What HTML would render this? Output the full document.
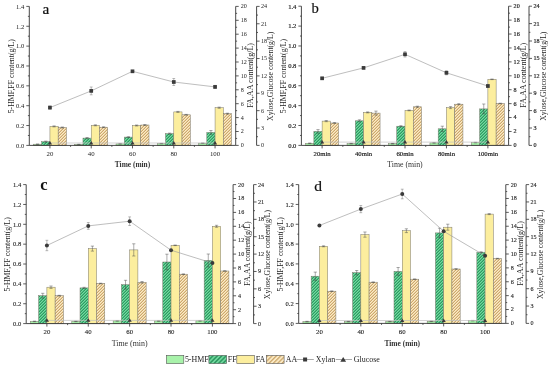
<!DOCTYPE html>
<html><head><meta charset="utf-8"><title>Chart</title>
<style>html,body{margin:0;padding:0;background:#fff;}body{width:550px;height:368px;overflow:hidden;}svg{display:block;filter:blur(0.3px);}</style>
</head><body>
<svg width="550" height="368" viewBox="0 0 550 368"><defs>
<pattern id="hff" patternUnits="userSpaceOnUse" width="3" height="3"><rect x="0" y="0" width="1" height="1" fill="#74d9a0"/><rect x="1" y="0" width="1" height="1" fill="#4cbc80"/><rect x="2" y="0" width="1" height="1" fill="#2f9a62"/><rect x="0" y="1" width="1" height="1" fill="#4cbc80"/><rect x="1" y="1" width="1" height="1" fill="#2f9a62"/><rect x="2" y="1" width="1" height="1" fill="#74d9a0"/><rect x="0" y="2" width="1" height="1" fill="#2f9a62"/><rect x="1" y="2" width="1" height="1" fill="#74d9a0"/><rect x="2" y="2" width="1" height="1" fill="#4cbc80"/></pattern>
<pattern id="haa" patternUnits="userSpaceOnUse" width="3" height="3"><rect x="0" y="0" width="1" height="1" fill="#fcebc6"/><rect x="1" y="0" width="1" height="1" fill="#ead0a0"/><rect x="2" y="0" width="1" height="1" fill="#cca86c"/><rect x="0" y="1" width="1" height="1" fill="#ead0a0"/><rect x="1" y="1" width="1" height="1" fill="#cca86c"/><rect x="2" y="1" width="1" height="1" fill="#fcebc6"/><rect x="0" y="2" width="1" height="1" fill="#cca86c"/><rect x="1" y="2" width="1" height="1" fill="#fcebc6"/><rect x="2" y="2" width="1" height="1" fill="#ead0a0"/></pattern>
<pattern id="lff" patternUnits="userSpaceOnUse" width="3.1" height="3.1" patternTransform="rotate(45)"><rect width="3.1" height="3.1" fill="#2f9a62"/><rect width="1.5" height="3.1" fill="#74d9a0"/></pattern>
<pattern id="laa" patternUnits="userSpaceOnUse" width="3.1" height="3.1" patternTransform="rotate(45)"><rect width="3.1" height="3.1" fill="#fcebc6"/><rect width="1.3" height="3.1" fill="#cca86c"/></pattern>
</defs>
<rect x="33.44" y="144.2" width="8.25" height="1.2" fill="#a8f2aa" stroke="#7a776a" stroke-width="0.5"/>
<rect x="41.69" y="141.7" width="8.25" height="3.7" fill="url(#hff)" stroke="#7a776a" stroke-width="0.5"/>
<rect x="49.94" y="126.4" width="8.25" height="19" fill="#fcee9e" stroke="#7a776a" stroke-width="0.5"/>
<rect x="58.19" y="127.5" width="8.25" height="17.9" fill="url(#haa)" stroke="#7a776a" stroke-width="0.5"/>
<path d="M37.56 144V144.4M35.96 144H39.16M35.96 144.4H39.16" stroke="#444" stroke-width="0.45" fill="none"/>
<path d="M45.81 141.1V142.3M44.21 141.1H47.41M44.21 142.3H47.41" stroke="#444" stroke-width="0.45" fill="none"/>
<path d="M54.06 125.9V126.9M52.46 125.9H55.66M52.46 126.9H55.66" stroke="#444" stroke-width="0.45" fill="none"/>
<path d="M62.31 127V128M60.71 127H63.91M60.71 128H63.91" stroke="#444" stroke-width="0.45" fill="none"/>
<rect x="74.72" y="144.4" width="8.25" height="1" fill="#a8f2aa" stroke="#7a776a" stroke-width="0.5"/>
<rect x="82.97" y="138.1" width="8.25" height="7.3" fill="url(#hff)" stroke="#7a776a" stroke-width="0.5"/>
<rect x="91.22" y="125.3" width="8.25" height="20.1" fill="#fcee9e" stroke="#7a776a" stroke-width="0.5"/>
<rect x="99.47" y="127.2" width="8.25" height="18.2" fill="url(#haa)" stroke="#7a776a" stroke-width="0.5"/>
<path d="M78.84 144.2V144.6M77.25 144.2H80.44M77.25 144.6H80.44" stroke="#444" stroke-width="0.45" fill="none"/>
<path d="M87.09 137.5V138.7M85.5 137.5H88.69M85.5 138.7H88.69" stroke="#444" stroke-width="0.45" fill="none"/>
<path d="M95.34 124.8V125.8M93.75 124.8H96.94M93.75 125.8H96.94" stroke="#444" stroke-width="0.45" fill="none"/>
<path d="M103.59 126.8V127.6M102 126.8H105.19M102 127.6H105.19" stroke="#444" stroke-width="0.45" fill="none"/>
<rect x="116" y="143.9" width="8.25" height="1.5" fill="#a8f2aa" stroke="#7a776a" stroke-width="0.5"/>
<rect x="124.25" y="137.1" width="8.25" height="8.3" fill="url(#hff)" stroke="#7a776a" stroke-width="0.5"/>
<rect x="132.5" y="125.5" width="8.25" height="19.9" fill="#fcee9e" stroke="#7a776a" stroke-width="0.5"/>
<rect x="140.75" y="125" width="8.25" height="20.4" fill="url(#haa)" stroke="#7a776a" stroke-width="0.5"/>
<path d="M120.12 143.7V144.1M118.53 143.7H121.72M118.53 144.1H121.72" stroke="#444" stroke-width="0.45" fill="none"/>
<path d="M128.38 136.7V137.5M126.78 136.7H129.97M126.78 137.5H129.97" stroke="#444" stroke-width="0.45" fill="none"/>
<path d="M136.62 125V126M135.03 125H138.22M135.03 126H138.22" stroke="#444" stroke-width="0.45" fill="none"/>
<path d="M144.88 124.5V125.5M143.28 124.5H146.47M143.28 125.5H146.47" stroke="#444" stroke-width="0.45" fill="none"/>
<rect x="157.28" y="143.6" width="8.25" height="1.8" fill="#a8f2aa" stroke="#7a776a" stroke-width="0.5"/>
<rect x="165.53" y="133.7" width="8.25" height="11.7" fill="url(#hff)" stroke="#7a776a" stroke-width="0.5"/>
<rect x="173.78" y="111.9" width="8.25" height="33.5" fill="#fcee9e" stroke="#7a776a" stroke-width="0.5"/>
<rect x="182.03" y="114.8" width="8.25" height="30.6" fill="url(#haa)" stroke="#7a776a" stroke-width="0.5"/>
<path d="M161.41 143.4V143.8M159.81 143.4H163M159.81 143.8H163" stroke="#444" stroke-width="0.45" fill="none"/>
<path d="M169.66 133.1V134.3M168.06 133.1H171.25M168.06 134.3H171.25" stroke="#444" stroke-width="0.45" fill="none"/>
<path d="M177.91 111.4V112.4M176.31 111.4H179.5M176.31 112.4H179.5" stroke="#444" stroke-width="0.45" fill="none"/>
<path d="M186.16 114.4V115.2M184.56 114.4H187.75M184.56 115.2H187.75" stroke="#444" stroke-width="0.45" fill="none"/>
<rect x="198.56" y="143.2" width="8.25" height="2.2" fill="#a8f2aa" stroke="#7a776a" stroke-width="0.5"/>
<rect x="206.81" y="132.4" width="8.25" height="13" fill="url(#hff)" stroke="#7a776a" stroke-width="0.5"/>
<rect x="215.06" y="107.7" width="8.25" height="37.7" fill="#fcee9e" stroke="#7a776a" stroke-width="0.5"/>
<rect x="223.31" y="113.7" width="8.25" height="31.7" fill="url(#haa)" stroke="#7a776a" stroke-width="0.5"/>
<path d="M202.69 143V143.4M201.09 143H204.28M201.09 143.4H204.28" stroke="#444" stroke-width="0.45" fill="none"/>
<path d="M210.94 130.5V134.3M209.34 130.5H212.53M209.34 134.3H212.53" stroke="#444" stroke-width="0.45" fill="none"/>
<path d="M219.19 107.1V108.3M217.59 107.1H220.78M217.59 108.3H220.78" stroke="#444" stroke-width="0.45" fill="none"/>
<path d="M227.44 113.2V114.2M225.84 113.2H229.03M225.84 114.2H229.03" stroke="#444" stroke-width="0.45" fill="none"/>
<path d="M49.94 143H215.06" stroke="#c2c2c2" stroke-width="0.7" fill="none"/>
<path d="M47.84 144.4L49.94 140.9L52.04 144.4Z" fill="#3a3a3a"/>
<path d="M89.12 144.4L91.22 140.9L93.32 144.4Z" fill="#3a3a3a"/>
<path d="M130.4 144.4L132.5 140.9L134.6 144.4Z" fill="#3a3a3a"/>
<path d="M171.68 144.4L173.78 140.9L175.88 144.4Z" fill="#3a3a3a"/>
<path d="M212.96 144.4L215.06 140.9L217.16 144.4Z" fill="#3a3a3a"/>
<polyline points="49.94,107.6 91.22,90.9 132.5,71.3 173.78,82 215.06,86.9" stroke="#9a9a9a" stroke-width="0.65" fill="none"/>
<path d="M49.94 106.1V109.1M48.54 106.1H51.34M48.54 109.1H51.34" stroke="#777" stroke-width="0.5" fill="none"/>
<rect x="48.09" y="105.75" width="3.7" height="3.7" fill="#3a3a3a"/>
<path d="M91.22 87V94.8M89.82 87H92.62M89.82 94.8H92.62" stroke="#777" stroke-width="0.5" fill="none"/>
<rect x="89.37" y="89.05" width="3.7" height="3.7" fill="#3a3a3a"/>
<path d="M132.5 70.5V72.1M131.1 70.5H133.9M131.1 72.1H133.9" stroke="#777" stroke-width="0.5" fill="none"/>
<rect x="130.65" y="69.45" width="3.7" height="3.7" fill="#3a3a3a"/>
<path d="M173.78 78.5V85.5M172.38 78.5H175.18M172.38 85.5H175.18" stroke="#777" stroke-width="0.5" fill="none"/>
<rect x="171.93" y="80.15" width="3.7" height="3.7" fill="#3a3a3a"/>
<path d="M215.06 85.4V88.4M213.66 85.4H216.46M213.66 88.4H216.46" stroke="#777" stroke-width="0.5" fill="none"/>
<rect x="213.21" y="85.05" width="3.7" height="3.7" fill="#3a3a3a"/>
<path d="M29.3 6.4V145.4H235.7V6.4M256.6 6.4V145.4" stroke="#333" stroke-width="0.9" fill="none"/>
<path d="M26.3 145.4H29.3M27.9 135.47H29.3M26.3 125.54H29.3M27.9 115.61H29.3M26.3 105.69H29.3M27.9 95.76H29.3M26.3 85.83H29.3M27.9 75.9H29.3M26.3 65.97H29.3M27.9 56.04H29.3M26.3 46.11H29.3M27.9 36.19H29.3M26.3 26.26H29.3M27.9 16.33H29.3M26.3 6.4H29.3M235.7 145.4H238.7M235.7 138.45H237.1M235.7 131.5H238.7M235.7 124.55H237.1M235.7 117.6H238.7M235.7 110.65H237.1M235.7 103.7H238.7M235.7 96.75H237.1M235.7 89.8H238.7M235.7 82.85H237.1M235.7 75.9H238.7M235.7 68.95H237.1M235.7 62H238.7M235.7 55.05H237.1M235.7 48.1H238.7M235.7 41.15H237.1M235.7 34.2H238.7M235.7 27.25H237.1M235.7 20.3H238.7M235.7 13.35H237.1M235.7 6.4H238.7M256.6 145.4H259.6M256.6 136.71H258M256.6 128.03H259.6M256.6 119.34H258M256.6 110.65H259.6M256.6 101.96H258M256.6 93.28H259.6M256.6 84.59H258M256.6 75.9H259.6M256.6 67.21H258M256.6 58.53H259.6M256.6 49.84H258M256.6 41.15H259.6M256.6 32.46H258M256.6 23.78H259.6M256.6 15.09H258M256.6 6.4H259.6M49.94 145.4V148.4M70.58 145.4V146.9M91.22 145.4V148.4M111.86 145.4V146.9M132.5 145.4V148.4M153.14 145.4V146.9M173.78 145.4V148.4M194.42 145.4V146.9M215.06 145.4V148.4" stroke="#333" stroke-width="0.8" fill="none"/>
<g font-family="'Liberation Serif', 'Times New Roman', serif" font-size="6.6" fill="#222">
<text x="24.3" y="147.7" text-anchor="end">0.0</text>
<text x="24.3" y="127.84" text-anchor="end">0.2</text>
<text x="24.3" y="107.99" text-anchor="end">0.4</text>
<text x="24.3" y="88.13" text-anchor="end">0.6</text>
<text x="24.3" y="68.27" text-anchor="end">0.8</text>
<text x="24.3" y="48.41" text-anchor="end">1.0</text>
<text x="24.3" y="28.56" text-anchor="end">1.2</text>
<text x="24.3" y="8.7" text-anchor="end">1.4</text>
</g>
<g font-family="'Liberation Serif', 'Times New Roman', serif" font-size="6.1" fill="#222">
<text x="240.7" y="147.3">0</text>
<text x="240.7" y="133.4">2</text>
<text x="240.7" y="119.5">4</text>
<text x="240.7" y="105.6">6</text>
<text x="240.7" y="91.7">8</text>
<text x="240.7" y="77.8">10</text>
<text x="240.7" y="63.9">12</text>
<text x="240.7" y="50">14</text>
<text x="240.7" y="36.1">16</text>
<text x="240.7" y="22.2">18</text>
<text x="240.7" y="8.3">20</text>
<text x="261" y="147.3">0</text>
<text x="261" y="129.93">3</text>
<text x="261" y="112.55">6</text>
<text x="261" y="95.18">9</text>
<text x="261" y="77.8">12</text>
<text x="261" y="60.43">15</text>
<text x="261" y="43.05">18</text>
<text x="261" y="25.68">21</text>
<text x="261" y="8.3">24</text>
</g>
<g font-family="'Liberation Serif', 'Times New Roman', serif" font-size="6.8" fill="#222">
<text x="49.94" y="155.7" text-anchor="middle">20</text>
<text x="91.22" y="155.7" text-anchor="middle">40</text>
<text x="132.5" y="155.7" text-anchor="middle">60</text>
<text x="173.78" y="155.7" text-anchor="middle">80</text>
<text x="215.06" y="155.7" text-anchor="middle">100</text>
</g>
<g font-family="'Liberation Serif', 'Times New Roman', serif" font-size="7.7" fill="#222" text-anchor="middle">
<text transform="translate(13.5,76.2) rotate(-90)" font-size="7.8">5-HMF,FF content(g/L)</text>
<text transform="translate(252.6,75.4) rotate(-90)" font-size="8.0">FA,AA content(g/L)</text>
<text transform="translate(273.4,76.3) rotate(-90)">Xylose,Glucose content(g/L)</text>
</g>
<text x="132.5" y="166.8" font-family="'Liberation Serif', 'Times New Roman', serif" font-size="7.4" font-weight="bold" fill="#333" text-anchor="middle">Time (min)</text>
<text x="42.4" y="13.5" font-family="'Liberation Serif', 'Times New Roman', serif" font-size="15.2" font-weight="normal" fill="#111" stroke="#111" stroke-width="0.22">a</text>
<rect x="305.62" y="143.3" width="8.25" height="2.1" fill="#a8f2aa" stroke="#7a776a" stroke-width="0.5"/>
<rect x="313.87" y="131.4" width="8.25" height="14" fill="url(#hff)" stroke="#7a776a" stroke-width="0.5"/>
<rect x="322.12" y="121.1" width="8.25" height="24.3" fill="#fcee9e" stroke="#7a776a" stroke-width="0.5"/>
<rect x="330.37" y="123" width="8.25" height="22.4" fill="url(#haa)" stroke="#7a776a" stroke-width="0.5"/>
<path d="M309.75 143V143.6M308.14 143H311.35M308.14 143.6H311.35" stroke="#444" stroke-width="0.45" fill="none"/>
<path d="M318 129.6V133.2M316.39 129.6H319.6M316.39 133.2H319.6" stroke="#444" stroke-width="0.45" fill="none"/>
<path d="M326.25 120.5V121.7M324.64 120.5H327.85M324.64 121.7H327.85" stroke="#444" stroke-width="0.45" fill="none"/>
<path d="M334.5 122.6V123.4M332.89 122.6H336.1M332.89 123.4H336.1" stroke="#444" stroke-width="0.45" fill="none"/>
<rect x="347.06" y="143.6" width="8.25" height="1.8" fill="#a8f2aa" stroke="#7a776a" stroke-width="0.5"/>
<rect x="355.31" y="120.8" width="8.25" height="24.6" fill="url(#hff)" stroke="#7a776a" stroke-width="0.5"/>
<rect x="363.56" y="112.4" width="8.25" height="33" fill="#fcee9e" stroke="#7a776a" stroke-width="0.5"/>
<rect x="371.81" y="113.1" width="8.25" height="32.3" fill="url(#haa)" stroke="#7a776a" stroke-width="0.5"/>
<path d="M351.19 143.3V143.9M349.58 143.3H352.79M349.58 143.9H352.79" stroke="#444" stroke-width="0.45" fill="none"/>
<path d="M359.44 119.8V121.8M357.83 119.8H361.04M357.83 121.8H361.04" stroke="#444" stroke-width="0.45" fill="none"/>
<path d="M367.69 111.9V112.9M366.08 111.9H369.29M366.08 112.9H369.29" stroke="#444" stroke-width="0.45" fill="none"/>
<path d="M375.94 111.1V115.1M374.33 111.1H377.54M374.33 115.1H377.54" stroke="#444" stroke-width="0.45" fill="none"/>
<rect x="388.5" y="143.7" width="8.25" height="1.7" fill="#a8f2aa" stroke="#7a776a" stroke-width="0.5"/>
<rect x="396.75" y="126.2" width="8.25" height="19.2" fill="url(#hff)" stroke="#7a776a" stroke-width="0.5"/>
<rect x="405" y="110.4" width="8.25" height="35" fill="#fcee9e" stroke="#7a776a" stroke-width="0.5"/>
<rect x="413.25" y="106.8" width="8.25" height="38.6" fill="url(#haa)" stroke="#7a776a" stroke-width="0.5"/>
<path d="M392.62 143.4V144M391.02 143.4H394.23M391.02 144H394.23" stroke="#444" stroke-width="0.45" fill="none"/>
<path d="M400.88 125.7V126.7M399.27 125.7H402.48M399.27 126.7H402.48" stroke="#444" stroke-width="0.45" fill="none"/>
<path d="M409.12 110V110.8M407.52 110H410.73M407.52 110.8H410.73" stroke="#444" stroke-width="0.45" fill="none"/>
<path d="M417.38 106.2V107.4M415.77 106.2H418.98M415.77 107.4H418.98" stroke="#444" stroke-width="0.45" fill="none"/>
<rect x="429.94" y="142.9" width="8.25" height="2.5" fill="#a8f2aa" stroke="#7a776a" stroke-width="0.5"/>
<rect x="438.19" y="128.8" width="8.25" height="16.6" fill="url(#hff)" stroke="#7a776a" stroke-width="0.5"/>
<rect x="446.44" y="107.6" width="8.25" height="37.8" fill="#fcee9e" stroke="#7a776a" stroke-width="0.5"/>
<rect x="454.69" y="104.2" width="8.25" height="41.2" fill="url(#haa)" stroke="#7a776a" stroke-width="0.5"/>
<path d="M434.07 142.6V143.2M432.47 142.6H435.67M432.47 143.2H435.67" stroke="#444" stroke-width="0.45" fill="none"/>
<path d="M442.32 126.2V131.4M440.72 126.2H443.92M440.72 131.4H443.92" stroke="#444" stroke-width="0.45" fill="none"/>
<path d="M450.57 106.6V108.6M448.97 106.6H452.17M448.97 108.6H452.17" stroke="#444" stroke-width="0.45" fill="none"/>
<path d="M458.82 103.7V104.7M457.22 103.7H460.42M457.22 104.7H460.42" stroke="#444" stroke-width="0.45" fill="none"/>
<rect x="471.38" y="142.6" width="8.25" height="2.8" fill="#a8f2aa" stroke="#7a776a" stroke-width="0.5"/>
<rect x="479.63" y="108.9" width="8.25" height="36.5" fill="url(#hff)" stroke="#7a776a" stroke-width="0.5"/>
<rect x="487.88" y="79.3" width="8.25" height="66.1" fill="#fcee9e" stroke="#7a776a" stroke-width="0.5"/>
<rect x="496.13" y="103.5" width="8.25" height="41.9" fill="url(#haa)" stroke="#7a776a" stroke-width="0.5"/>
<path d="M475.5 142.3V142.9M473.9 142.3H477.11M473.9 142.9H477.11" stroke="#444" stroke-width="0.45" fill="none"/>
<path d="M483.75 104V113.8M482.15 104H485.36M482.15 113.8H485.36" stroke="#444" stroke-width="0.45" fill="none"/>
<path d="M492 79V79.6M490.4 79H493.61M490.4 79.6H493.61" stroke="#444" stroke-width="0.45" fill="none"/>
<path d="M500.25 103.2V103.8M498.65 103.2H501.86M498.65 103.8H501.86" stroke="#444" stroke-width="0.45" fill="none"/>
<path d="M322.12 142.1H487.88" stroke="#c2c2c2" stroke-width="0.7" fill="none"/>
<path d="M320.02 143.5L322.12 140L324.22 143.5Z" fill="#3a3a3a"/>
<path d="M361.46 143.5L363.56 140L365.66 143.5Z" fill="#3a3a3a"/>
<path d="M402.9 143.5L405 140L407.1 143.5Z" fill="#3a3a3a"/>
<path d="M444.34 143.5L446.44 140L448.54 143.5Z" fill="#3a3a3a"/>
<path d="M485.78 143.5L487.88 140L489.98 143.5Z" fill="#3a3a3a"/>
<polyline points="322.12,78.3 363.56,67.9 405,54.3 446.44,72.8 487.88,86" stroke="#9a9a9a" stroke-width="0.65" fill="none"/>
<path d="M322.12 77.5V79.1M320.72 77.5H323.52M320.72 79.1H323.52" stroke="#777" stroke-width="0.5" fill="none"/>
<rect x="320.27" y="76.45" width="3.7" height="3.7" fill="#3a3a3a"/>
<path d="M363.56 67.1V68.7M362.16 67.1H364.96M362.16 68.7H364.96" stroke="#777" stroke-width="0.5" fill="none"/>
<rect x="361.71" y="66.05" width="3.7" height="3.7" fill="#3a3a3a"/>
<path d="M405 51.6V57M403.6 51.6H406.4M403.6 57H406.4" stroke="#777" stroke-width="0.5" fill="none"/>
<rect x="403.15" y="52.45" width="3.7" height="3.7" fill="#3a3a3a"/>
<path d="M446.44 70.8V74.8M445.04 70.8H447.84M445.04 74.8H447.84" stroke="#777" stroke-width="0.5" fill="none"/>
<rect x="444.59" y="70.95" width="3.7" height="3.7" fill="#3a3a3a"/>
<path d="M487.88 84.8V87.2M486.48 84.8H489.28M486.48 87.2H489.28" stroke="#777" stroke-width="0.5" fill="none"/>
<rect x="486.03" y="84.15" width="3.7" height="3.7" fill="#3a3a3a"/>
<path d="M301.4 6.2V145.4H508.6V6.2M529 6.2V145.4" stroke="#333" stroke-width="0.9" fill="none"/>
<path d="M298.4 145.4H301.4M300 135.46H301.4M298.4 125.51H301.4M300 115.57H301.4M298.4 105.63H301.4M300 95.69H301.4M298.4 85.74H301.4M300 75.8H301.4M298.4 65.86H301.4M300 55.91H301.4M298.4 45.97H301.4M300 36.03H301.4M298.4 26.09H301.4M300 16.14H301.4M298.4 6.2H301.4M508.6 145.4H511.6M508.6 138.44H510M508.6 131.48H511.6M508.6 124.52H510M508.6 117.56H511.6M508.6 110.6H510M508.6 103.64H511.6M508.6 96.68H510M508.6 89.72H511.6M508.6 82.76H510M508.6 75.8H511.6M508.6 68.84H510M508.6 61.88H511.6M508.6 54.92H510M508.6 47.96H511.6M508.6 41H510M508.6 34.04H511.6M508.6 27.08H510M508.6 20.12H511.6M508.6 13.16H510M508.6 6.2H511.6M529 145.4H532M529 136.7H530.4M529 128H532M529 119.3H530.4M529 110.6H532M529 101.9H530.4M529 93.2H532M529 84.5H530.4M529 75.8H532M529 67.1H530.4M529 58.4H532M529 49.7H530.4M529 41H532M529 32.3H530.4M529 23.6H532M529 14.9H530.4M529 6.2H532M322.12 145.4V148.4M342.84 145.4V146.9M363.56 145.4V148.4M384.28 145.4V146.9M405 145.4V148.4M425.72 145.4V146.9M446.44 145.4V148.4M467.16 145.4V146.9M487.88 145.4V148.4" stroke="#333" stroke-width="0.8" fill="none"/>
<g font-family="'Liberation Serif', 'Times New Roman', serif" font-size="6.6" fill="#222" stroke="#222" stroke-width="0.18">
<text x="296.4" y="147.7" text-anchor="end">0.0</text>
<text x="296.4" y="127.81" text-anchor="end">0.2</text>
<text x="296.4" y="107.93" text-anchor="end">0.4</text>
<text x="296.4" y="88.04" text-anchor="end">0.6</text>
<text x="296.4" y="68.16" text-anchor="end">0.8</text>
<text x="296.4" y="48.27" text-anchor="end">1.0</text>
<text x="296.4" y="28.39" text-anchor="end">1.2</text>
<text x="296.4" y="8.5" text-anchor="end">1.4</text>
</g>
<g font-family="'Liberation Serif', 'Times New Roman', serif" font-size="6.1" fill="#222" stroke="#222" stroke-width="0.18">
<text x="513.6" y="147.3">0</text>
<text x="513.6" y="133.38">2</text>
<text x="513.6" y="119.46">4</text>
<text x="513.6" y="105.54">6</text>
<text x="513.6" y="91.62">8</text>
<text x="513.6" y="77.7">10</text>
<text x="513.6" y="63.78">12</text>
<text x="513.6" y="49.86">14</text>
<text x="513.6" y="35.94">16</text>
<text x="513.6" y="22.02">18</text>
<text x="513.6" y="8.1">20</text>
<text x="533.4" y="147.3">0</text>
<text x="533.4" y="129.9">3</text>
<text x="533.4" y="112.5">6</text>
<text x="533.4" y="95.1">9</text>
<text x="533.4" y="77.7">12</text>
<text x="533.4" y="60.3">15</text>
<text x="533.4" y="42.9">18</text>
<text x="533.4" y="25.5">21</text>
<text x="533.4" y="8.1">24</text>
</g>
<g font-family="'Liberation Serif', 'Times New Roman', serif" font-size="6.7" fill="#222" stroke="#222" stroke-width="0.18">
<text x="322.12" y="155.7" text-anchor="middle">20min</text>
<text x="363.56" y="155.7" text-anchor="middle">40min</text>
<text x="405" y="155.7" text-anchor="middle">60min</text>
<text x="446.44" y="155.7" text-anchor="middle">80min</text>
<text x="487.88" y="155.7" text-anchor="middle">100min</text>
</g>
<g font-family="'Liberation Serif', 'Times New Roman', serif" font-size="7.7" fill="#222" text-anchor="middle">
<text transform="translate(285.6,76.1) rotate(-90)" font-size="7.8">5-HMF,FF content(g/L)</text>
<text transform="translate(525.5,75.3) rotate(-90)" font-size="8.0">FA,AA content(g/L)</text>
<text transform="translate(545.8,76.2) rotate(-90)">Xylose,Glucose content(g/L)</text>
</g>
<text x="405" y="166.8" font-family="'Liberation Serif', 'Times New Roman', serif" font-size="7.8" font-weight="normal" fill="#333" text-anchor="middle">Time (min)</text>
<text x="311.6" y="12.6" font-family="'Liberation Serif', 'Times New Roman', serif" font-size="14.7" font-weight="normal" fill="#111" stroke="#111" stroke-width="0.15">b</text>
<rect x="30.39" y="321.4" width="8.25" height="2.2" fill="#a8f2aa" stroke="#7a776a" stroke-width="0.5"/>
<rect x="38.64" y="295.7" width="8.25" height="27.9" fill="url(#hff)" stroke="#7a776a" stroke-width="0.5"/>
<rect x="46.89" y="287.2" width="8.25" height="36.4" fill="#fcee9e" stroke="#7a776a" stroke-width="0.5"/>
<rect x="55.14" y="295.7" width="8.25" height="27.9" fill="url(#haa)" stroke="#7a776a" stroke-width="0.5"/>
<path d="M34.52 321.1V321.7M32.91 321.1H36.12M32.91 321.7H36.12" stroke="#444" stroke-width="0.45" fill="none"/>
<path d="M42.77 293.3V298.1M41.16 293.3H44.37M41.16 298.1H44.37" stroke="#444" stroke-width="0.45" fill="none"/>
<path d="M51.02 286V288.4M49.41 286H52.62M49.41 288.4H52.62" stroke="#444" stroke-width="0.45" fill="none"/>
<path d="M59.27 295.3V296.1M57.66 295.3H60.87M57.66 296.1H60.87" stroke="#444" stroke-width="0.45" fill="none"/>
<rect x="71.77" y="321.4" width="8.25" height="2.2" fill="#a8f2aa" stroke="#7a776a" stroke-width="0.5"/>
<rect x="80.02" y="287.9" width="8.25" height="35.7" fill="url(#hff)" stroke="#7a776a" stroke-width="0.5"/>
<rect x="88.27" y="248.6" width="8.25" height="75" fill="#fcee9e" stroke="#7a776a" stroke-width="0.5"/>
<rect x="96.52" y="283.5" width="8.25" height="40.1" fill="url(#haa)" stroke="#7a776a" stroke-width="0.5"/>
<path d="M75.9 321.1V321.7M74.3 321.1H77.5M74.3 321.7H77.5" stroke="#444" stroke-width="0.45" fill="none"/>
<path d="M84.15 287.3V288.5M82.55 287.3H85.75M82.55 288.5H85.75" stroke="#444" stroke-width="0.45" fill="none"/>
<path d="M92.4 246.1V251.1M90.8 246.1H94M90.8 251.1H94" stroke="#444" stroke-width="0.45" fill="none"/>
<path d="M100.65 283.2V283.8M99.05 283.2H102.25M99.05 283.8H102.25" stroke="#444" stroke-width="0.45" fill="none"/>
<rect x="113.15" y="320.9" width="8.25" height="2.7" fill="#a8f2aa" stroke="#7a776a" stroke-width="0.5"/>
<rect x="121.4" y="284.7" width="8.25" height="38.9" fill="url(#hff)" stroke="#7a776a" stroke-width="0.5"/>
<rect x="129.65" y="249.9" width="8.25" height="73.7" fill="#fcee9e" stroke="#7a776a" stroke-width="0.5"/>
<rect x="137.9" y="282.3" width="8.25" height="41.3" fill="url(#haa)" stroke="#7a776a" stroke-width="0.5"/>
<path d="M117.28 320.6V321.2M115.68 320.6H118.88M115.68 321.2H118.88" stroke="#444" stroke-width="0.45" fill="none"/>
<path d="M125.53 280.3V289.1M123.93 280.3H127.12M123.93 289.1H127.12" stroke="#444" stroke-width="0.45" fill="none"/>
<path d="M133.78 243.8V256M132.18 243.8H135.38M132.18 256H135.38" stroke="#444" stroke-width="0.45" fill="none"/>
<path d="M142.03 281.5V283.1M140.43 281.5H143.62M140.43 283.1H143.62" stroke="#444" stroke-width="0.45" fill="none"/>
<rect x="154.53" y="321" width="8.25" height="2.6" fill="#a8f2aa" stroke="#7a776a" stroke-width="0.5"/>
<rect x="162.78" y="262" width="8.25" height="61.6" fill="url(#hff)" stroke="#7a776a" stroke-width="0.5"/>
<rect x="171.03" y="245.3" width="8.25" height="78.3" fill="#fcee9e" stroke="#7a776a" stroke-width="0.5"/>
<rect x="179.28" y="274.2" width="8.25" height="49.4" fill="url(#haa)" stroke="#7a776a" stroke-width="0.5"/>
<path d="M158.66 320.7V321.3M157.06 320.7H160.25M157.06 321.3H160.25" stroke="#444" stroke-width="0.45" fill="none"/>
<path d="M166.91 254.2V269.8M165.31 254.2H168.5M165.31 269.8H168.5" stroke="#444" stroke-width="0.45" fill="none"/>
<path d="M175.16 245V245.6M173.56 245H176.75M173.56 245.6H176.75" stroke="#444" stroke-width="0.45" fill="none"/>
<path d="M183.41 273.9V274.5M181.81 273.9H185M181.81 274.5H185" stroke="#444" stroke-width="0.45" fill="none"/>
<rect x="195.91" y="320.9" width="8.25" height="2.7" fill="#a8f2aa" stroke="#7a776a" stroke-width="0.5"/>
<rect x="204.16" y="260.5" width="8.25" height="63.1" fill="url(#hff)" stroke="#7a776a" stroke-width="0.5"/>
<rect x="212.41" y="226.3" width="8.25" height="97.3" fill="#fcee9e" stroke="#7a776a" stroke-width="0.5"/>
<rect x="220.66" y="271" width="8.25" height="52.6" fill="url(#haa)" stroke="#7a776a" stroke-width="0.5"/>
<path d="M200.03 320.6V321.2M198.44 320.6H201.63M198.44 321.2H201.63" stroke="#444" stroke-width="0.45" fill="none"/>
<path d="M208.28 254V267M206.69 254H209.88M206.69 267H209.88" stroke="#444" stroke-width="0.45" fill="none"/>
<path d="M216.53 225.3V227.3M214.94 225.3H218.13M214.94 227.3H218.13" stroke="#444" stroke-width="0.45" fill="none"/>
<path d="M224.78 270.7V271.3M223.19 270.7H226.38M223.19 271.3H226.38" stroke="#444" stroke-width="0.45" fill="none"/>
<path d="M46.89 320.4H212.41" stroke="#c2c2c2" stroke-width="0.7" fill="none"/>
<path d="M44.79 321.8L46.89 318.3L48.99 321.8Z" fill="#3a3a3a"/>
<path d="M86.17 321.8L88.27 318.3L90.37 321.8Z" fill="#3a3a3a"/>
<path d="M127.55 321.8L129.65 318.3L131.75 321.8Z" fill="#3a3a3a"/>
<path d="M168.93 321.8L171.03 318.3L173.13 321.8Z" fill="#3a3a3a"/>
<path d="M210.31 321.8L212.41 318.3L214.51 321.8Z" fill="#3a3a3a"/>
<polyline points="46.89,245.5 88.27,225.9 129.65,221.2 171.03,250.2 212.41,263.1" stroke="#9a9a9a" stroke-width="0.65" fill="none"/>
<path d="M46.89 240.3V250.7M45.49 240.3H48.29M45.49 250.7H48.29" stroke="#777" stroke-width="0.5" fill="none"/>
<circle cx="46.89" cy="245.5" r="2.0" fill="#3a3a3a"/>
<path d="M88.27 222.5V229.3M86.87 222.5H89.67M86.87 229.3H89.67" stroke="#777" stroke-width="0.5" fill="none"/>
<circle cx="88.27" cy="225.9" r="2.0" fill="#3a3a3a"/>
<path d="M129.65 216.9V225.5M128.25 216.9H131.05M128.25 225.5H131.05" stroke="#777" stroke-width="0.5" fill="none"/>
<circle cx="129.65" cy="221.2" r="2.0" fill="#3a3a3a"/>
<circle cx="171.03" cy="250.2" r="2.0" fill="#3a3a3a"/>
<circle cx="212.41" cy="263.1" r="2.0" fill="#3a3a3a"/>
<path d="M26.2 184.6V323.6H233.1V184.6M253.6 184.6V323.6" stroke="#333" stroke-width="0.9" fill="none"/>
<path d="M23.2 323.6H26.2M24.8 313.67H26.2M23.2 303.74H26.2M24.8 293.81H26.2M23.2 283.89H26.2M24.8 273.96H26.2M23.2 264.03H26.2M24.8 254.1H26.2M23.2 244.17H26.2M24.8 234.24H26.2M23.2 224.31H26.2M24.8 214.39H26.2M23.2 204.46H26.2M24.8 194.53H26.2M23.2 184.6H26.2M233.1 323.6H236.1M233.1 316.65H234.5M233.1 309.7H236.1M233.1 302.75H234.5M233.1 295.8H236.1M233.1 288.85H234.5M233.1 281.9H236.1M233.1 274.95H234.5M233.1 268H236.1M233.1 261.05H234.5M233.1 254.1H236.1M233.1 247.15H234.5M233.1 240.2H236.1M233.1 233.25H234.5M233.1 226.3H236.1M233.1 219.35H234.5M233.1 212.4H236.1M233.1 205.45H234.5M233.1 198.5H236.1M233.1 191.55H234.5M233.1 184.6H236.1M253.6 323.6H256.6M253.6 314.91H255M253.6 306.23H256.6M253.6 297.54H255M253.6 288.85H256.6M253.6 280.16H255M253.6 271.48H256.6M253.6 262.79H255M253.6 254.1H256.6M253.6 245.41H255M253.6 236.73H256.6M253.6 228.04H255M253.6 219.35H256.6M253.6 210.66H255M253.6 201.97H256.6M253.6 193.29H255M253.6 184.6H256.6M46.89 323.6V326.6M67.58 323.6V325.1M88.27 323.6V326.6M108.96 323.6V325.1M129.65 323.6V326.6M150.34 323.6V325.1M171.03 323.6V326.6M191.72 323.6V325.1M212.41 323.6V326.6" stroke="#333" stroke-width="0.8" fill="none"/>
<g font-family="'Liberation Serif', 'Times New Roman', serif" font-size="6.6" fill="#222" stroke="#222" stroke-width="0.1">
<text x="21.2" y="325.9" text-anchor="end">0.0</text>
<text x="21.2" y="306.04" text-anchor="end">0.2</text>
<text x="21.2" y="286.19" text-anchor="end">0.4</text>
<text x="21.2" y="266.33" text-anchor="end">0.6</text>
<text x="21.2" y="246.47" text-anchor="end">0.8</text>
<text x="21.2" y="226.61" text-anchor="end">1.0</text>
<text x="21.2" y="206.76" text-anchor="end">1.2</text>
<text x="21.2" y="186.9" text-anchor="end">1.4</text>
</g>
<g font-family="'Liberation Serif', 'Times New Roman', serif" font-size="6.1" fill="#222" stroke="#222" stroke-width="0.1">
<text x="238.1" y="325.5">0</text>
<text x="238.1" y="311.6">2</text>
<text x="238.1" y="297.7">4</text>
<text x="238.1" y="283.8">6</text>
<text x="238.1" y="269.9">8</text>
<text x="238.1" y="256">10</text>
<text x="238.1" y="242.1">12</text>
<text x="238.1" y="228.2">14</text>
<text x="238.1" y="214.3">16</text>
<text x="238.1" y="200.4">18</text>
<text x="238.1" y="186.5">20</text>
<text x="258" y="325.5">0</text>
<text x="258" y="308.12">3</text>
<text x="258" y="290.75">6</text>
<text x="258" y="273.38">9</text>
<text x="258" y="256">12</text>
<text x="258" y="238.63">15</text>
<text x="258" y="221.25">18</text>
<text x="258" y="203.88">21</text>
<text x="258" y="186.5">24</text>
</g>
<g font-family="'Liberation Serif', 'Times New Roman', serif" font-size="6.8" fill="#222" stroke="#222" stroke-width="0.1">
<text x="46.89" y="333.9" text-anchor="middle">20</text>
<text x="88.27" y="333.9" text-anchor="middle">40</text>
<text x="129.65" y="333.9" text-anchor="middle">60</text>
<text x="171.03" y="333.9" text-anchor="middle">80</text>
<text x="212.41" y="333.9" text-anchor="middle">100</text>
</g>
<g font-family="'Liberation Serif', 'Times New Roman', serif" font-size="7.7" fill="#222" text-anchor="middle">
<text transform="translate(10.4,254.4) rotate(-90)" font-size="7.8">5-HMF,FF content(g/L)</text>
<text transform="translate(250,253.6) rotate(-90)" font-size="8.0">FA,AA content(g/L)</text>
<text transform="translate(270.4,254.5) rotate(-90)">Xylose,Glucose content(g/L)</text>
</g>
<text x="129.65" y="346.1" font-family="'Liberation Serif', 'Times New Roman', serif" font-size="7.9" font-weight="normal" fill="#333" text-anchor="middle">Time (min)</text>
<text x="40.3" y="190.3" font-family="'Liberation Serif', 'Times New Roman', serif" font-size="16.5" font-weight="bold" fill="#111" stroke="#111" stroke-width="0">c</text>
<rect x="302.91" y="321.6" width="8.25" height="1.8" fill="#a8f2aa" stroke="#7a776a" stroke-width="0.5"/>
<rect x="311.16" y="276.2" width="8.25" height="47.2" fill="url(#hff)" stroke="#7a776a" stroke-width="0.5"/>
<rect x="319.41" y="246.3" width="8.25" height="77.1" fill="#fcee9e" stroke="#7a776a" stroke-width="0.5"/>
<rect x="327.66" y="291.2" width="8.25" height="32.2" fill="url(#haa)" stroke="#7a776a" stroke-width="0.5"/>
<path d="M307.03 321.3V321.9M305.43 321.3H308.63M305.43 321.9H308.63" stroke="#444" stroke-width="0.45" fill="none"/>
<path d="M315.28 272.1V280.3M313.68 272.1H316.88M313.68 280.3H316.88" stroke="#444" stroke-width="0.45" fill="none"/>
<path d="M323.53 245.8V246.8M321.93 245.8H325.13M321.93 246.8H325.13" stroke="#444" stroke-width="0.45" fill="none"/>
<path d="M331.78 290.9V291.5M330.18 290.9H333.38M330.18 291.5H333.38" stroke="#444" stroke-width="0.45" fill="none"/>
<rect x="344.33" y="321.6" width="8.25" height="1.8" fill="#a8f2aa" stroke="#7a776a" stroke-width="0.5"/>
<rect x="352.58" y="272.7" width="8.25" height="50.7" fill="url(#hff)" stroke="#7a776a" stroke-width="0.5"/>
<rect x="360.83" y="234.6" width="8.25" height="88.8" fill="#fcee9e" stroke="#7a776a" stroke-width="0.5"/>
<rect x="369.08" y="282.2" width="8.25" height="41.2" fill="url(#haa)" stroke="#7a776a" stroke-width="0.5"/>
<path d="M348.45 321.3V321.9M346.85 321.3H350.06M346.85 321.9H350.06" stroke="#444" stroke-width="0.45" fill="none"/>
<path d="M356.7 270.5V274.9M355.1 270.5H358.31M355.1 274.9H358.31" stroke="#444" stroke-width="0.45" fill="none"/>
<path d="M364.95 232V237.2M363.35 232H366.56M363.35 237.2H366.56" stroke="#444" stroke-width="0.45" fill="none"/>
<path d="M373.2 281.9V282.5M371.6 281.9H374.81M371.6 282.5H374.81" stroke="#444" stroke-width="0.45" fill="none"/>
<rect x="385.75" y="321.5" width="8.25" height="1.9" fill="#a8f2aa" stroke="#7a776a" stroke-width="0.5"/>
<rect x="394" y="271.4" width="8.25" height="52" fill="url(#hff)" stroke="#7a776a" stroke-width="0.5"/>
<rect x="402.25" y="230.7" width="8.25" height="92.7" fill="#fcee9e" stroke="#7a776a" stroke-width="0.5"/>
<rect x="410.5" y="279.2" width="8.25" height="44.2" fill="url(#haa)" stroke="#7a776a" stroke-width="0.5"/>
<path d="M389.88 321.2V321.8M388.27 321.2H391.48M388.27 321.8H391.48" stroke="#444" stroke-width="0.45" fill="none"/>
<path d="M398.12 267.5V275.3M396.52 267.5H399.73M396.52 275.3H399.73" stroke="#444" stroke-width="0.45" fill="none"/>
<path d="M406.38 228.8V232.6M404.77 228.8H407.98M404.77 232.6H407.98" stroke="#444" stroke-width="0.45" fill="none"/>
<path d="M414.62 278.9V279.5M413.02 278.9H416.23M413.02 279.5H416.23" stroke="#444" stroke-width="0.45" fill="none"/>
<rect x="427.17" y="321.3" width="8.25" height="2.1" fill="#a8f2aa" stroke="#7a776a" stroke-width="0.5"/>
<rect x="435.42" y="232.9" width="8.25" height="90.5" fill="url(#hff)" stroke="#7a776a" stroke-width="0.5"/>
<rect x="443.67" y="227.2" width="8.25" height="96.2" fill="#fcee9e" stroke="#7a776a" stroke-width="0.5"/>
<rect x="451.92" y="269" width="8.25" height="54.4" fill="url(#haa)" stroke="#7a776a" stroke-width="0.5"/>
<path d="M431.3 321V321.6M429.69 321H432.9M429.69 321.6H432.9" stroke="#444" stroke-width="0.45" fill="none"/>
<path d="M439.55 228.2V237.6M437.94 228.2H441.15M437.94 237.6H441.15" stroke="#444" stroke-width="0.45" fill="none"/>
<path d="M447.8 224.2V230.2M446.19 224.2H449.4M446.19 230.2H449.4" stroke="#444" stroke-width="0.45" fill="none"/>
<path d="M456.05 268.7V269.3M454.44 268.7H457.65M454.44 269.3H457.65" stroke="#444" stroke-width="0.45" fill="none"/>
<rect x="468.59" y="320.7" width="8.25" height="2.7" fill="#a8f2aa" stroke="#7a776a" stroke-width="0.5"/>
<rect x="476.84" y="252.2" width="8.25" height="71.2" fill="url(#hff)" stroke="#7a776a" stroke-width="0.5"/>
<rect x="485.09" y="214.1" width="8.25" height="109.3" fill="#fcee9e" stroke="#7a776a" stroke-width="0.5"/>
<rect x="493.34" y="258.6" width="8.25" height="64.8" fill="url(#haa)" stroke="#7a776a" stroke-width="0.5"/>
<path d="M472.72 320.4V321M471.12 320.4H474.32M471.12 321H474.32" stroke="#444" stroke-width="0.45" fill="none"/>
<path d="M480.97 251.8V252.6M479.37 251.8H482.57M479.37 252.6H482.57" stroke="#444" stroke-width="0.45" fill="none"/>
<path d="M489.22 213.6V214.6M487.62 213.6H490.82M487.62 214.6H490.82" stroke="#444" stroke-width="0.45" fill="none"/>
<path d="M497.47 258.3V258.9M495.87 258.3H499.07M495.87 258.9H499.07" stroke="#444" stroke-width="0.45" fill="none"/>
<path d="M319.41 320.5H485.09" stroke="#c2c2c2" stroke-width="0.7" fill="none"/>
<path d="M317.31 321.9L319.41 318.4L321.51 321.9Z" fill="#3a3a3a"/>
<path d="M358.73 321.9L360.83 318.4L362.93 321.9Z" fill="#3a3a3a"/>
<path d="M400.15 321.9L402.25 318.4L404.35 321.9Z" fill="#3a3a3a"/>
<path d="M441.57 321.9L443.67 318.4L445.77 321.9Z" fill="#3a3a3a"/>
<path d="M482.99 321.9L485.09 318.4L487.19 321.9Z" fill="#3a3a3a"/>
<polyline points="319.41,225.5 360.83,209.1 402.25,194 443.67,231.3 485.09,255.8" stroke="#9a9a9a" stroke-width="0.65" fill="none"/>
<circle cx="319.41" cy="225.5" r="2.0" fill="#3a3a3a"/>
<path d="M360.83 205.5V212.7M359.43 205.5H362.23M359.43 212.7H362.23" stroke="#777" stroke-width="0.5" fill="none"/>
<circle cx="360.83" cy="209.1" r="2.0" fill="#3a3a3a"/>
<path d="M402.25 189.2V198.8M400.85 189.2H403.65M400.85 198.8H403.65" stroke="#777" stroke-width="0.5" fill="none"/>
<circle cx="402.25" cy="194" r="2.0" fill="#3a3a3a"/>
<circle cx="443.67" cy="231.3" r="2.0" fill="#3a3a3a"/>
<circle cx="485.09" cy="255.8" r="2.0" fill="#3a3a3a"/>
<path d="M298.7 184.6V323.4H505.8V184.6M526.1 184.6V323.4" stroke="#333" stroke-width="0.9" fill="none"/>
<path d="M295.7 323.4H298.7M297.3 313.49H298.7M295.7 303.57H298.7M297.3 293.66H298.7M295.7 283.74H298.7M297.3 273.83H298.7M295.7 263.91H298.7M297.3 254H298.7M295.7 244.09H298.7M297.3 234.17H298.7M295.7 224.26H298.7M297.3 214.34H298.7M295.7 204.43H298.7M297.3 194.51H298.7M295.7 184.6H298.7M505.8 323.4H508.8M505.8 316.46H507.2M505.8 309.52H508.8M505.8 302.58H507.2M505.8 295.64H508.8M505.8 288.7H507.2M505.8 281.76H508.8M505.8 274.82H507.2M505.8 267.88H508.8M505.8 260.94H507.2M505.8 254H508.8M505.8 247.06H507.2M505.8 240.12H508.8M505.8 233.18H507.2M505.8 226.24H508.8M505.8 219.3H507.2M505.8 212.36H508.8M505.8 205.42H507.2M505.8 198.48H508.8M505.8 191.54H507.2M505.8 184.6H508.8M526.1 323.4H529.1M526.1 314.72H527.5M526.1 306.05H529.1M526.1 297.38H527.5M526.1 288.7H529.1M526.1 280.02H527.5M526.1 271.35H529.1M526.1 262.67H527.5M526.1 254H529.1M526.1 245.32H527.5M526.1 236.65H529.1M526.1 227.97H527.5M526.1 219.3H529.1M526.1 210.62H527.5M526.1 201.95H529.1M526.1 193.28H527.5M526.1 184.6H529.1M319.41 323.4V326.4M340.12 323.4V324.9M360.83 323.4V326.4M381.54 323.4V324.9M402.25 323.4V326.4M422.96 323.4V324.9M443.67 323.4V326.4M464.38 323.4V324.9M485.09 323.4V326.4" stroke="#333" stroke-width="0.8" fill="none"/>
<g font-family="'Liberation Serif', 'Times New Roman', serif" font-size="6.6" fill="#222" stroke="#222" stroke-width="0.12">
<text x="293.7" y="325.7" text-anchor="end">0.0</text>
<text x="293.7" y="305.87" text-anchor="end">0.2</text>
<text x="293.7" y="286.04" text-anchor="end">0.4</text>
<text x="293.7" y="266.21" text-anchor="end">0.6</text>
<text x="293.7" y="246.39" text-anchor="end">0.8</text>
<text x="293.7" y="226.56" text-anchor="end">1.0</text>
<text x="293.7" y="206.73" text-anchor="end">1.2</text>
<text x="293.7" y="186.9" text-anchor="end">1.4</text>
</g>
<g font-family="'Liberation Serif', 'Times New Roman', serif" font-size="6.1" fill="#222" stroke="#222" stroke-width="0.12">
<text x="510.8" y="325.3">0</text>
<text x="510.8" y="311.42">2</text>
<text x="510.8" y="297.54">4</text>
<text x="510.8" y="283.66">6</text>
<text x="510.8" y="269.78">8</text>
<text x="510.8" y="255.9">10</text>
<text x="510.8" y="242.02">12</text>
<text x="510.8" y="228.14">14</text>
<text x="510.8" y="214.26">16</text>
<text x="510.8" y="200.38">18</text>
<text x="510.8" y="186.5">20</text>
<text x="530.5" y="325.3">0</text>
<text x="530.5" y="307.95">3</text>
<text x="530.5" y="290.6">6</text>
<text x="530.5" y="273.25">9</text>
<text x="530.5" y="255.9">12</text>
<text x="530.5" y="238.55">15</text>
<text x="530.5" y="221.2">18</text>
<text x="530.5" y="203.85">21</text>
<text x="530.5" y="186.5">24</text>
</g>
<g font-family="'Liberation Serif', 'Times New Roman', serif" font-size="6.8" fill="#222" stroke="#222" stroke-width="0.12">
<text x="319.41" y="333.7" text-anchor="middle">20</text>
<text x="360.83" y="333.7" text-anchor="middle">40</text>
<text x="402.25" y="333.7" text-anchor="middle">60</text>
<text x="443.67" y="333.7" text-anchor="middle">80</text>
<text x="485.09" y="333.7" text-anchor="middle">100</text>
</g>
<g font-family="'Liberation Serif', 'Times New Roman', serif" font-size="7.7" fill="#222" text-anchor="middle">
<text transform="translate(282.9,254.3) rotate(-90)" font-size="7.8">5-HMF,FF content(g/L)</text>
<text transform="translate(522.7,253.5) rotate(-90)" font-size="8.0">FA,AA content(g/L)</text>
<text transform="translate(542.9,254.4) rotate(-90)">Xylose,Glucose content(g/L)</text>
</g>
<text x="402.25" y="346.1" font-family="'Liberation Serif', 'Times New Roman', serif" font-size="7.45" font-weight="bold" fill="#333" text-anchor="middle">Time (min)</text>
<text x="314.3" y="190.5" font-family="'Liberation Serif', 'Times New Roman', serif" font-size="15.5" font-weight="normal" fill="#111" stroke="#111" stroke-width="0.2">d</text>
<rect x="166.4" y="355.4" width="17.4" height="8.2" fill="#a8f2aa" stroke="#555" stroke-width="0.6"/>
<rect x="208.9" y="355.4" width="17.7" height="8.2" fill="url(#lff)" stroke="#555" stroke-width="0.6"/>
<rect x="236.8" y="355.4" width="17.5" height="8.2" fill="#fcee9e" stroke="#555" stroke-width="0.6"/>
<rect x="266.4" y="355.4" width="17.7" height="8.2" fill="url(#laa)" stroke="#555" stroke-width="0.6"/>
<path d="M296.4 359.5H313.8M335.7 359.5H352" stroke="#aaa" stroke-width="1.1"/>
<rect x="303.1" y="357.5" width="4" height="4" fill="#3a3a3a"/>
<path d="M340.3 361.7L343.2 356.9L346.1 361.7Z" fill="#3a3a3a"/>
<g font-family="'Liberation Serif', 'Times New Roman', serif" font-size="7.95" fill="#222">
<text x="184.9" y="362.1">5-HMF</text>
<text x="227.8" y="362.1">FF</text>
<text x="255.8" y="362.1">FA</text>
<text x="285.7" y="362.1">AA</text>
<text x="315.8" y="362.1">Xylan</text>
<text x="353.8" y="362.1">Glucose</text>
</g></svg>
</body></html>
